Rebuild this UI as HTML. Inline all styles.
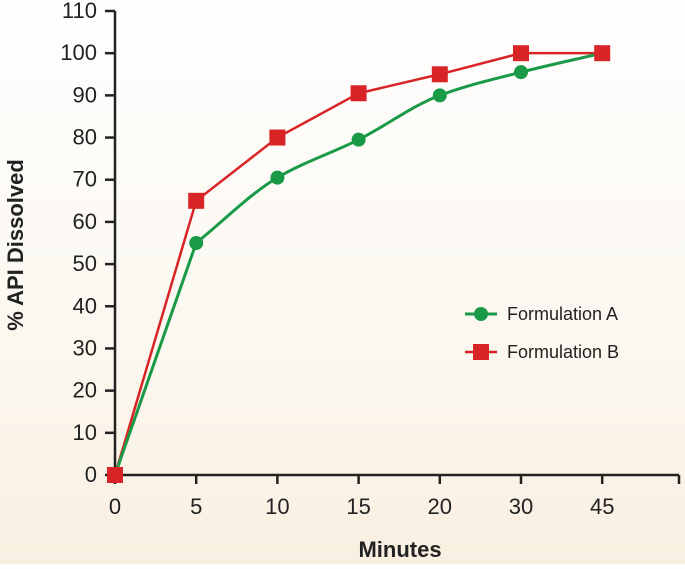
<!DOCTYPE html>
<html><head><meta charset="utf-8"><style>
html,body{margin:0;padding:0;}
body{width:685px;height:564px;overflow:hidden;background:linear-gradient(#fefefe 0%,#fcf8f0 60%,#f9efe1 100%);font-family:"Liberation Sans",sans-serif;}
</style></head><body>
<svg id="chart" width="685" height="564" xmlns="http://www.w3.org/2000/svg"></svg>
<script>
const categories = ["0","5","10","15","20","30","45"];
const seriesA = [0,55,70.5,79.5,90,95.5,100];
const seriesB = [0,65,80,90.5,95,100,100];
const yTicks = [0,10,20,30,40,50,60,70,80,90,100,110];

const NS="http://www.w3.org/2000/svg";
const svg=document.getElementById('chart');
const x0=115, xStep=81.2, y0=475, yTop=11, yMax=110;
function xs(i){return x0+i*xStep;}
function ys(v){return y0-(v/yMax)*(y0-yTop);}
function el(tag,attrs,parent){const e=document.createElementNS(NS,tag);for(const k in attrs)e.setAttribute(k,attrs[k]);(parent||svg).appendChild(e);return e;}

const axes=el('g',{});


el('line',{x1:x0,y1:yTop,x2:x0,y2:y0,stroke:'#222','stroke-width':2.5},axes);
el('line',{x1:x0,y1:y0,x2:679,y2:y0,stroke:'#222','stroke-width':2.5},axes);
el('line',{x1:679,y1:y0,x2:679,y2:484,stroke:'#222','stroke-width':2.5},axes);
yTicks.forEach(v=>{
  const y=ys(v);
  el('line',{x1:105,y1:y,x2:x0,y2:y,stroke:'#222','stroke-width':2.5},axes);
  const t=el('text',{x:97,y:y+7,'text-anchor':'end','font-size':22,fill:'#222'},axes);
  t.textContent=v;
  
  
});
categories.forEach((c,i)=>{
  const x=xs(i);
  el('line',{x1:x,y1:y0,x2:x,y2:484,stroke:'#222','stroke-width':2.5},axes);
  const t=el('text',{x:x,y:514,'text-anchor':'middle','font-size':22,fill:'#222'},axes);
  t.textContent=c;
  
  
});
const xt=el('text',{x:400,y:557,'text-anchor':'middle','font-size':22,'font-weight':'bold',fill:'#222'});
xt.textContent='Minutes';


const yt=el('text',{x:0,y:0,'text-anchor':'middle','font-size':22,'font-weight':'bold',fill:'#222',transform:'translate(23,245) rotate(-90)'});
yt.textContent='% API Dissolved';



function pathStraight(vals){
  return 'M'+vals.map((v,i)=>xs(i)+','+ys(v)).join('L');
}
function pathMonotone(vals){
  const pts=vals.map((v,i)=>[xs(i),ys(v)]);
  let d='M'+pts[0].join(',')+'L'+pts[1].join(',');
  const p=pts.slice(1), n=p.length;
  const s=[];for(let i=0;i<n-1;i++)s.push((p[i+1][1]-p[i][1])/(p[i+1][0]-p[i][0]));
  const m=[];
  m[0]=s[0]; m[n-1]=s[n-2];
  for(let i=1;i<n-1;i++){m[i]=(s[i-1]*s[i]<=0)?0:2/(1/s[i-1]+1/s[i]);}
  for(let i=0;i<n-1;i++){
    const h=(p[i+1][0]-p[i][0])/3;
    d+='C'+(p[i][0]+h)+','+(p[i][1]+m[i]*h)+' '+(p[i+1][0]-h)+','+(p[i+1][1]-m[i+1]*h)+' '+p[i+1].join(',');
  }
  return d;
}
const lineB=el('path',{d:pathStraight(seriesB),fill:'none',stroke:'#d92427','stroke-width':2.5});


const lineA=el('path',{d:pathMonotone(seriesA),fill:'none',stroke:'#1a9a47','stroke-width':3});


seriesA.forEach((v,i)=>{
  const c=el('circle',{cx:xs(i),cy:ys(v),r:7,fill:'#1a9a47'});
  
  
});
seriesB.forEach((v,i)=>{
  const r=el('rect',{x:xs(i)-8,y:ys(v)-8,width:16,height:16,fill:'#d92427'});
  
  
});

const lg=el('g',{});


el('line',{x1:465,y1:314,x2:497,y2:314,stroke:'#1a9a47','stroke-width':3},lg);
el('circle',{cx:481,cy:314,r:7,fill:'#1a9a47'},lg);
const la=el('text',{x:507,y:320,'font-size':18,fill:'#222'},lg);
la.textContent='Formulation A';


el('line',{x1:465,y1:352,x2:497,y2:352,stroke:'#d92427','stroke-width':2.5},lg);
el('rect',{x:473,y:344,width:16,height:16,fill:'#d92427'},lg);
const lb=el('text',{x:507,y:358,'font-size':18,fill:'#222'},lg);
lb.textContent='Formulation B';


</script>
</body></html>
